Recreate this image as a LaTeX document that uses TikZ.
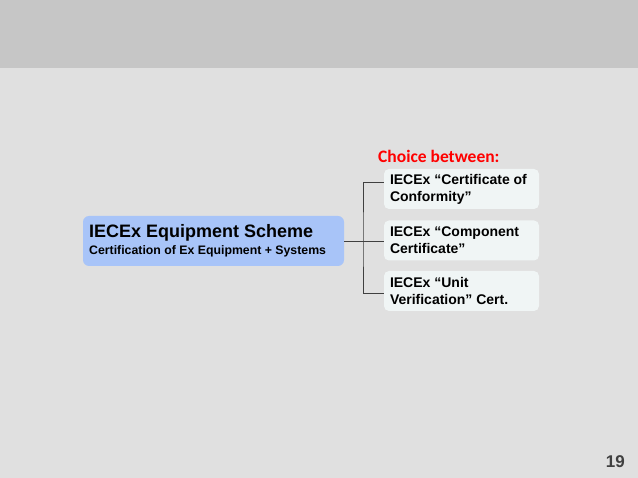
\documentclass[tikz,border=0pt]{standalone}
\usepackage{fontspec}
\setmainfont{Liberation Sans}
\newfontfamily\carl{Carlito}
\begin{document}
\begin{tikzpicture}[x=1pt,y=-1pt,
  main/.style={fill=mainblue,rounded corners=6pt,minimum width=261pt,minimum height=50pt,inner sep=0pt},
  opt/.style={fill=optfill,rounded corners=5pt,minimum width=155pt,minimum height=40pt,inner sep=0pt},
  conn/.style={draw=black!75,line width=0.8pt}]
\definecolor{mainblue}{HTML}{A8C4F8}
\definecolor{optfill}{HTML}{F0F5F5}
\useasboundingbox (0,0) rectangle (638,478);
\fill[fill={rgb,255:red,224;green,224;blue,224}] (0,0) rectangle (638,478);
\fill[fill={rgb,255:red,198;green,198;blue,198}] (0,0) rectangle (638,68);
\node[main] (m) at (213.5,241) {};
\node[anchor=west,inner sep=0pt,font=\bfseries\fontsize{18}{20}\selectfont] at (89,233) {IECEx Equipment Scheme};
\node[anchor=west,inner sep=0pt,font=\bfseries\fontsize{12.3}{14}\selectfont] at (89,251) {Certification of Ex Equipment + Systems};
\node[opt] (a) at (461.5,189) {};
\node[opt] (b) at (461.5,240.5) {};
\node[opt] (c) at (461.5,291) {};
\foreach \n/\t in {a/{IECEx “Certificate of\\Conformity”},b/{IECEx “Component\\Certificate”},c/{IECEx “Unit\\Verification” Cert.}}
  \node[anchor=west,inner sep=0pt,align=left,font=\bfseries\fontsize{14}{17}\selectfont] at ([xshift=6pt]\n.west) {\t};
\node[anchor=west,inner sep=0pt,text=red,font=\carl\bfseries\fontsize{17.5}{19}\selectfont] (ch) at (378,156) {Choice between:};
\coordinate (j) at (363,241);
\draw[conn] (m.east) -- (j);
\draw[conn] (a.west |- 0,182) -| (j) |- (c.west |- 0,293);
\draw[conn] (j) -- (b.west |- j);
\node[anchor=east,inner sep=0pt,text=black!75,font=\bfseries\fontsize{17}{19}\selectfont] (p) at (625,462) {19};
\end{tikzpicture}
\end{document}
